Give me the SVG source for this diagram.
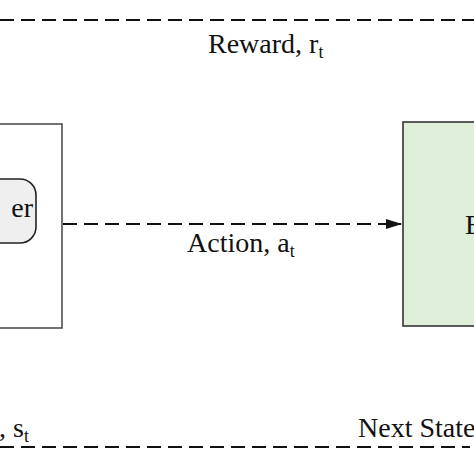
<svg xmlns="http://www.w3.org/2000/svg" width="474" height="474" viewBox="0 0 474 474">
<style>
text{font-family:"Liberation Serif","Times New Roman",serif;font-size:28px;fill:#111}
.sub{font-size:18px}
.dash{stroke:#111;stroke-width:2;stroke-dasharray:14 7;fill:none}
</style>
<defs>
<marker id="ah" markerWidth="16" markerHeight="10" refX="15" refY="5" orient="auto" markerUnits="userSpaceOnUse">
<path d="M0,0 L16,5 L0,10 Z" fill="#111"/>
</marker>
</defs>
<rect width="474" height="474" fill="#fff"/>
<g id="agent">
<rect x="-20" y="124" width="82" height="204" fill="#fff" stroke="#444" stroke-width="1.5"/>
</g>
<g id="controller">
<rect x="-40" y="179" width="76" height="64" rx="16" ry="16" fill="#efefef" stroke="#222" stroke-width="1.6"/>
<text x="33" y="217" text-anchor="end">er</text>
</g>
<g id="environment">
<rect x="403" y="122" width="90" height="204" fill="#dfeed8" stroke="#333" stroke-width="1.6"/>
<text x="465" y="234">E</text>
</g>
<g id="connectors">
<line class="dash" x1="0" y1="20" x2="474" y2="20"/>
<line class="dash" x1="63" y1="224" x2="401" y2="224" marker-end="url(#ah)"/>
<line class="dash" x1="0" y1="447" x2="470" y2="447"/>
<text x="208" y="53">Reward, r<tspan class="sub" dy="5">t</tspan></text>
<text x="187" y="252">Action, a<tspan class="sub" dy="5">t</tspan></text>
<text x="-1" y="437">, s<tspan class="sub" dy="5">t</tspan></text>
<text x="358" y="437">Next State</text>
</g>
</svg>
